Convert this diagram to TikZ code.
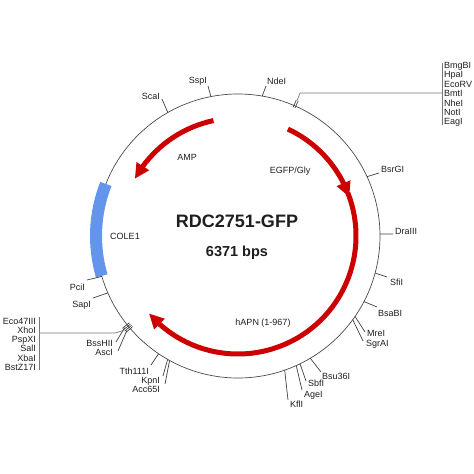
\documentclass[tikz,border=0pt]{standalone}
\usepackage{fontspec}
\setmainfont{Liberation Sans}
\usetikzlibrary{arrows.meta,bending,calc}
\definecolor{gbred}{RGB}{204,0,0}
\definecolor{gbblue}{RGB}{100,149,237}
\definecolor{ink}{RGB}{30,30,30}
\begin{document}
\begin{tikzpicture}[x=1pt,y=1pt,
  lab/.style={font=\fontsize{9}{10}\selectfont,inner sep=0pt,text=ink},
  tk/.style={draw=ink!85,line width=0.7pt},
  ld/.style={draw=ink!60,line width=0.7pt},
  feat/.style={draw=gbred,line width=5pt,-{Triangle[length=15pt,width=14pt,flex]}},
  ]
\useasboundingbox (0,0) rectangle (474,-474);
\coordinate (C) at (238,-236);
% backbone
\draw[draw=ink!80,line width=0.7pt] (C) circle[radius=142];
% COLE1 band
\draw[gbblue,line width=12pt] ($(C)+(158.5:142)$) arc[start angle=158.5,end angle=196.3,radius=142];
% red features
\draw[feat] ($(C)+(102:118)$) arc[start angle=102,end angle=151,radius=118];
\draw[feat] ($(C)+(21.5:118)$) arc[start angle=21.5,end angle=-139,radius=118];
\draw[feat] ($(C)+(65:118)$) arc[start angle=65,end angle=19.3,radius=118];
% feature labels
\node[lab] (amp) at (187,-157) {AMP};
\node[lab] (egfp) at (290,-171) {EGFP/Gly};
\node[lab] (hapn) at (263,-323) {hAPN (1-967)};
\node[lab] (cole) at (125,-236) {COLE1};
\node[font=\bfseries\fontsize{18}{18}\selectfont,inner sep=0pt,text=ink,anchor=base] (title) at (237,-227.5) {RDC2751-GFP};
\node[font=\bfseries\fontsize{14.5}{15}\selectfont,inner sep=0pt,text=ink,anchor=base] (size) at (237,-256) {6371 bps};

% single sites: top
\coordinate (cNde) at ($(C)+(80.2:142)$);  \coordinate (eNde) at (266,-86);
\draw[tk] (cNde) -- (eNde);
\node[lab,anchor=base west] (lNde) at (267,-84) {NdeI};
\coordinate (cSsp) at ($(C)+(101:142)$);  \coordinate (eSsp) at (208,-86);
\draw[tk] (cSsp) -- (eSsp);
\node[lab,anchor=base east] (lSsp) at (207,-83.2) {SspI};
\coordinate (cSca) at ($(C)+(119.6:142)$);  \coordinate (eSca) at (162,-99);
\draw[tk] (cSca) -- (eSca);
\node[lab,anchor=base east] (lSca) at (160,-99.2) {ScaI};

% right side
\coordinate (cBsr) at ($(C)+(24.7:142)$);  \coordinate (eBsr) at (379,-173);
\draw[tk] (cBsr) -- (eBsr);
\node[lab,anchor=base west] (lBsr) at (381,-172.2) {BsrGI};
\coordinate (cDra) at ($(C)+(0.8:142)$);  \coordinate (eDra) at (393,-234);
\draw[tk] (cDra) -- (eDra);
\node[lab,anchor=base west] (lDra) at (395,-234.2) {DraIII};
\coordinate (cSfi) at ($(C)+(-15.1:142)$);  \coordinate (eSfi) at (387,-277);
\draw[tk] (cSfi) -- (eSfi);
\node[lab,anchor=base west] (lSfi) at (390,-285) {SfiI};
\coordinate (cBsa) at ($(C)+(-27.5:142)$);  \coordinate (eBsa) at (377,-307);
\draw[tk] (cBsa) -- (eBsa);
\node[lab,anchor=base west] (lBsa) at (378,-316) {BsaBI};
\coordinate (cMre) at ($(C)+(-34.5:142)$);  \coordinate (eMre) at (365,-332);
\draw[tk] (cMre) -- (eMre);
\node[lab,anchor=base west] (lMre) at (367,-336.2) {MreI};
\coordinate (cSgr) at ($(C)+(-36.1:142)$);  \coordinate (eSgr) at (363,-341);
\draw[tk] (cSgr) -- (eSgr);
\node[lab,anchor=base west] (lSgr) at (366,-346.2) {SgrAI};

% bottom
\coordinate (cBsu) at ($(C)+(-59.4:142)$);  \coordinate (eBsu) at (321,-372);
\draw[tk] (cBsu) -- (eBsu);
\node[lab,anchor=base west] (lBsu) at (322,-379.2) {Bsu36I};
\coordinate (cSbf) at ($(C)+(-64.1:142)$);  \coordinate (eSbf) at (306,-381);
\draw[tk] (cSbf) -- (eSbf);
\node[lab,anchor=base west] (lSbf) at (308,-386.2) {SbfI};
\coordinate (cAge) at ($(C)+(-65.8:142)$);  \coordinate (eAge) at (302,-390);
\draw[tk] (cAge) -- (eAge);
\node[lab,anchor=base west] (lAge) at (304,-397.2) {AgeI};
\coordinate (cKfl) at ($(C)+(-70.8:142)$);  \coordinate (eKfl) at (288,-400);
\draw[tk] (cKfl) -- (eKfl);
\node[lab,anchor=base west] (lKfl) at (290,-407) {KflI};

% bottom left
\coordinate (cTth) at ($(C)+(236:142)$);  \coordinate (eTth) at (151,-365);
\draw[tk] (cTth) -- (eTth);
\node[lab,anchor=base east] (lTth) at (149,-374.2) {Tth111I};
\coordinate (cKpn) at ($(C)+(240.3:142)$);  \coordinate (eKpn) at (163,-376);
\draw[tk] (cKpn) -- (eKpn);
\node[lab,anchor=base east] (lKpn) at (160,-383.2) {KpnI};
\coordinate (cAcc) at ($(C)+(241.2:142)$);  \coordinate (eAcc) at (165,-384);
\draw[tk] (cAcc) -- (eAcc);
\node[lab,anchor=base east] (lAcc) at (160,-392.2) {Acc65I};

% left
\coordinate (cPci) at ($(C)+(196.5:142)$);  \coordinate (ePci) at (87,-280);
\draw[tk] (cPci) -- (ePci);
\node[lab,anchor=base east] (lPci) at (85,-290.2) {PciI};
\coordinate (cSap) at ($(C)+(203.6:142)$);  \coordinate (eSap) at (93,-298);
\draw[tk] (cSap) -- (eSap);
\node[lab,anchor=base east] (lSap) at (91,-307.2) {SapI};

% left cluster
\foreach \a in {218.6,219.3,220.0,220.7}
  \draw[tk] ($(C)+(\a:139)$) -- ($(C)+(\a:148)$);
\coordinate (cBss) at ($(C)+(219.0:146)$);  \coordinate (eBss) at (116,-342);
\draw[tk] (cBss) -- (eBss);
\node[lab,anchor=base east] (lBss) at (113,-346.2) {BssHII};
\coordinate (cAsc) at ($(C)+(220.4:146)$);  \coordinate (eAsc) at (118,-351);
\draw[tk] (cAsc) -- (eAsc);
\node[lab,anchor=base east] (lAsc) at (113,-355.2) {AscI};
\coordinate (cLc) at ($(C)+(219.6:148)$);
\coordinate (kLc) at (115,-333);
\coordinate (bLc) at (39,-333);
\draw[ld] (cLc) -- (kLc) -- (bLc);
\draw[ld] (39,-317) -- (39,-370);
\foreach \t [count=\i from 0] in {Eco47III,XhoI,PspXI,SalI,XbaI,BstZ17I}
  \node[lab,anchor=base east] (lL\i) at (36,{-324.2-9.25*\i}) {\t};

% right cluster
\foreach \a in {66.0,66.8}
  \draw[tk] ($(C)+(\a:140)$) -- ($(C)+(\a:148)$);
\coordinate (cRc) at ($(C)+(66.4:148)$);
\coordinate (kRc) at (300,-93);
\coordinate (bRc) at (442,-93);
\draw[ld] (cRc) -- (kRc) -- (bRc);
\draw[ld] (442,-63) -- (442,-125);
\foreach \t [count=\i from 0] in {BmgBI,HpaI,EcoRV,BmtI,NheI,NotI,EagI}
  \node[lab,anchor=base west] (lR\i) at (444,{-68.2-9.45*\i}) {\t};
\end{tikzpicture}
\end{document}
